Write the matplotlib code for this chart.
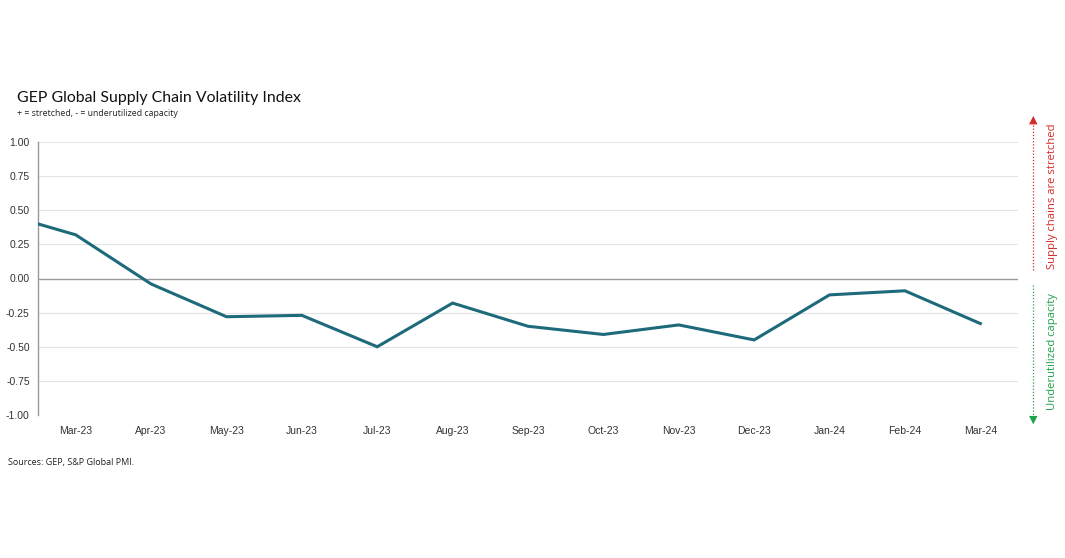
import matplotlib.pyplot as plt

# data (first point sits at the left axis edge, half a month before Mar-23)
months = ["Mar-23", "Apr-23", "May-23", "Jun-23", "Jul-23", "Aug-23", "Sep-23",
          "Oct-23", "Nov-23", "Dec-23", "Jan-24", "Feb-24", "Mar-24"]
start_value = 0.40
index_values = [0.32, -0.04, -0.28, -0.27, -0.50, -0.18, -0.35,
                -0.41, -0.34, -0.45, -0.12, -0.09, -0.33]
y_ticks = [1.00, 0.75, 0.50, 0.25, 0.00, -0.25, -0.50, -0.75, -1.00]

line_color = "#1d6a7a"
grid_color = "#e3e3e3"
red = "#d42a2a"
green = "#1fa24b"

fig = plt.figure(figsize=(10.65, 5.58), dpi=100)
ax = fig.add_axes([38 / 1065, 1 - 415 / 558, (1018 - 38) / 1065, (415 - 142) / 558])

xs = [-0.5] + list(range(len(months)))
ys = [start_value] + index_values
ax.plot(xs, ys, color=line_color, lw=2.2, solid_joinstyle="miter", zorder=3)

ax.set_xlim(-0.5, len(months) - 0.5)
ax.set_ylim(-1.0, 1.0)
ax.set_yticks(y_ticks)
ax.set_yticklabels([f"{v:.2f}" for v in y_ticks], family="Liberation Sans", fontsize=7.5, color="#333333")
ax.set_xticks(range(len(months)))
ax.set_xticklabels(months, family="Liberation Sans", fontsize=7.5, color="#333333")
ax.tick_params(axis="both", length=0, pad=6)
ax.tick_params(axis="x", pad=8)

for v in y_ticks:
    if v == 0:
        ax.axhline(v, color="#9a9a9a", lw=1.0, zorder=2)
    else:
        ax.axhline(v, color=grid_color, lw=0.8, zorder=1)

for side in ["top", "right", "bottom"]:
    ax.spines[side].set_visible(False)
ax.spines["left"].set_color("#9a9a9a")
ax.spines["left"].set_linewidth(1.0)

# title block
fig.text(17 / 1065, 1 - 98 / 558, "GEP Global Supply Chain Volatility Index",
         family="Lato", fontsize=11.4, color="#111111", va="center")
fig.text(17 / 1065, 1 - 114 / 558, "+ = stretched, - = underutilized capacity",
         family="Open Sans", fontsize=6.3, color="#222222", va="center")
fig.text(8 / 1065, 1 - 462 / 558, "Sources: GEP, S&P Global PMI.",
         family="Open Sans", fontsize=6.5, color="#222222", va="center")

# side arrows and labels
ax_x = 1033 / 1065
fig.add_artist(plt.Line2D([ax_x, ax_x], [1 - 270 / 558, 1 - 124 / 558], transform=fig.transFigure,
                          color=red, lw=0.9, ls=(0, (1, 1.5))))
fig.text(ax_x, 1 - 120 / 558, "▲", color=red, fontsize=8, ha="center", va="center")
fig.add_artist(plt.Line2D([ax_x, ax_x], [1 - 285 / 558, 1 - 415 / 558], transform=fig.transFigure,
                          color=green, lw=0.9, ls=(0, (1, 1.5))))
fig.text(ax_x, 1 - 420 / 558, "▼", color=green, fontsize=8, ha="center", va="center")

fig.text(1053 / 1065, 1 - 196 / 558, "Supply chains are stretched", rotation=90,
         family="Open Sans", fontsize=8.1, color=red, ha="center", va="center")
fig.text(1053 / 1065, 1 - 352 / 558, "Underutilized capacity", rotation=90,
         family="Open Sans", fontsize=8.1, color=green, ha="center", va="center")

fig.savefig("out.png", dpi=100, facecolor="white")
